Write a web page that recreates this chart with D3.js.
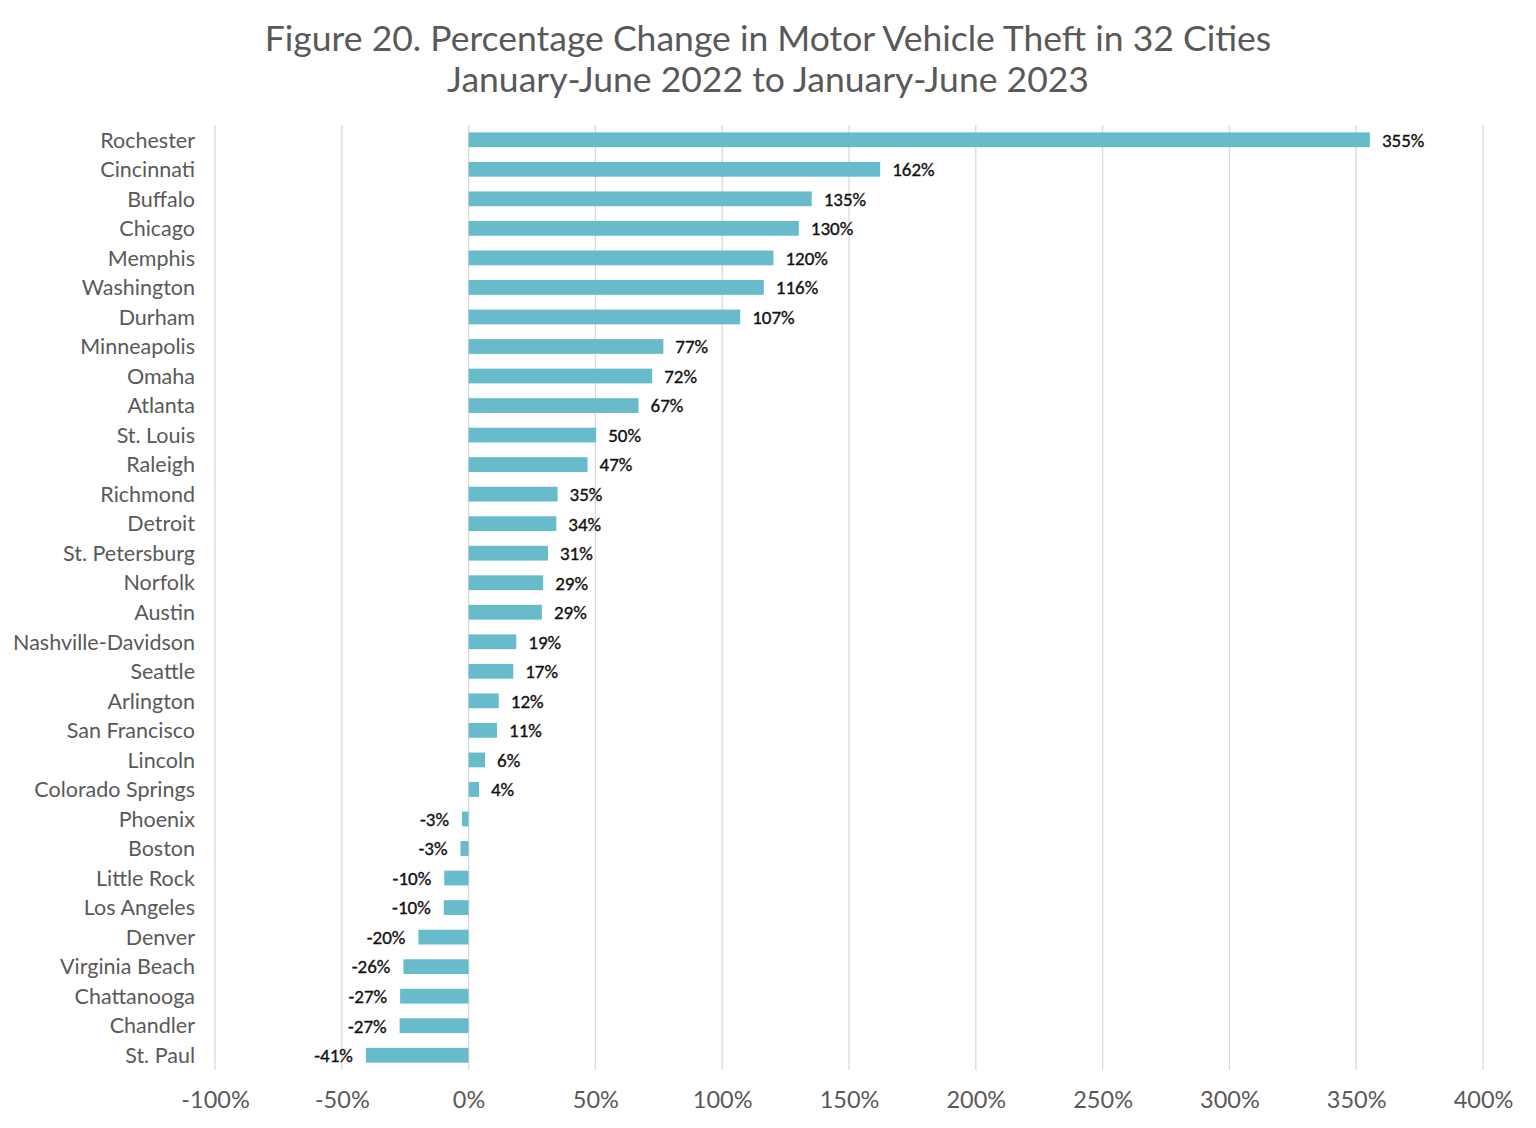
<!DOCTYPE html>
<html>
<head>
<meta charset="utf-8">
<script src="https://cdn.jsdelivr.net/npm/d3@7"></script>
<style>
  body { margin: 0; background: #fff; }
</style>
</head>
<body>
<div id="chart"></div>
<script>
// Data
var cities = ["Rochester", "Cincinnati", "Buffalo", "Chicago", "Memphis", "Washington", "Durham",
  "Minneapolis", "Omaha", "Atlanta", "St. Louis", "Raleigh", "Richmond", "Detroit", "St. Petersburg",
  "Norfolk", "Austin", "Nashville-Davidson", "Seattle", "Arlington", "San Francisco", "Lincoln",
  "Colorado Springs", "Phoenix", "Boston", "Little Rock", "Los Angeles", "Denver", "Virginia Beach",
  "Chattanooga", "Chandler", "St. Paul"];
var changes = [355, 162, 135, 130, 120, 116, 107, 77, 72, 67, 50, 47, 35, 34, 31, 29, 29, 19, 17, 12,
  11, 6, 4, -3, -3, -10, -10, -20, -26, -27, -27, -41];
// bar lengths slightly differ from rounded labels
var barValues = [355.4, 162.3, 135.3, 130.2, 120.2, 116.4, 107.1, 76.8, 72.4, 67.0, 50.3, 46.9, 35.1,
  34.6, 31.3, 29.4, 28.9, 18.8, 17.6, 11.9, 11.2, 6.5, 4.1, -2.6, -3.2, -9.6, -9.8, -19.8, -25.7,
  -27.0, -27.2, -40.5];
var xTicks = [-100, -50, 0, 50, 100, 150, 200, 250, 300, 350, 400];

var width = 1536, height = 1128;
var margin = {top: 125, right: 53, bottom: 58, left: 215};

var svg = d3.select("#chart").append("svg")
  .attr("width", width)
  .attr("height", height);

// Title
var title = svg.append("text")
  .attr("text-anchor", "middle")
  .style("font-family", "Lato, 'Open Sans', sans-serif")
  .style("font-size", "35.5px")
  .style("fill", "#595959");
title.append("tspan").attr("x", 768).attr("y", 51)
  .text("Figure 20. Percentage Change in Motor Vehicle Theft in 32 Cities");
title.append("tspan").attr("x", 768).attr("y", 92)
  .text("January-June 2022 to January-June 2023");

var x = d3.scaleLinear()
  .domain([-100, 400])
  .range([margin.left, width - margin.right]);

var y = d3.scaleBand()
  .domain(cities)
  .range([margin.top, height - margin.bottom])
  .paddingInner(0.5)
  .paddingOuter(0.25);

// Gridlines
svg.append("g")
  .selectAll("line")
  .data(xTicks)
  .enter().append("line")
  .attr("x1", function(d) { return x(d); })
  .attr("x2", function(d) { return x(d); })
  .attr("y1", margin.top)
  .attr("y2", height - margin.bottom)
  .style("stroke", "#d9d9d9")
  .style("stroke-width", 1.3);

// Bars
svg.append("g")
  .selectAll("rect")
  .data(cities)
  .enter().append("rect")
  .attr("x", function(d, i) { return x(Math.min(0, barValues[i])); })
  .attr("width", function(d, i) { return Math.abs(x(barValues[i]) - x(0)); })
  .attr("y", function(d) { return y(d); })
  .attr("height", y.bandwidth())
  .style("fill", "#67BBCB");

// Value labels
svg.append("g")
  .selectAll("text")
  .data(cities)
  .enter().append("text")
  .attr("x", function(d, i) {
    return barValues[i] >= 0 ? x(barValues[i]) + 12 : x(barValues[i]) - 13;
  })
  .attr("y", function(d) { return y(d) + y.bandwidth() / 2; })
  .attr("dy", "0.36em")
  .attr("text-anchor", function(d, i) { return barValues[i] >= 0 ? "start" : "end"; })
  .style("font-family", "Carlito, 'Open Sans', sans-serif")
  .style("font-size", "19px")
  .style("fill", "#111")
  .style("stroke", "#111")
  .style("stroke-width", 0.35)
  .text(function(d, i) { return changes[i] + "%"; });

// City labels
svg.append("g")
  .selectAll("text")
  .data(cities)
  .enter().append("text")
  .attr("x", 195)
  .attr("y", function(d) { return y(d) + y.bandwidth() / 2; })
  .attr("dy", "0.36em")
  .attr("text-anchor", "end")
  .style("font-family", "Lato, 'Open Sans', sans-serif")
  .style("font-size", "21.5px")
  .style("fill", "#595959")
  .text(function(d) { return d; });

// X axis labels
var xAxis = d3.axisBottom(x)
  .tickValues(xTicks)
  .tickSize(0)
  .tickPadding(21)
  .tickFormat(function(d) { return d + "%"; });

var gx = svg.append("g")
  .attr("transform", "translate(0," + (height - margin.bottom) + ")")
  .call(xAxis);
gx.select(".domain").remove();
gx.selectAll("text")
  .style("font-family", "Lato, 'Open Sans', sans-serif")
  .style("font-size", "23.5px")
  .style("fill", "#595959");
</script>
</body>
</html>
